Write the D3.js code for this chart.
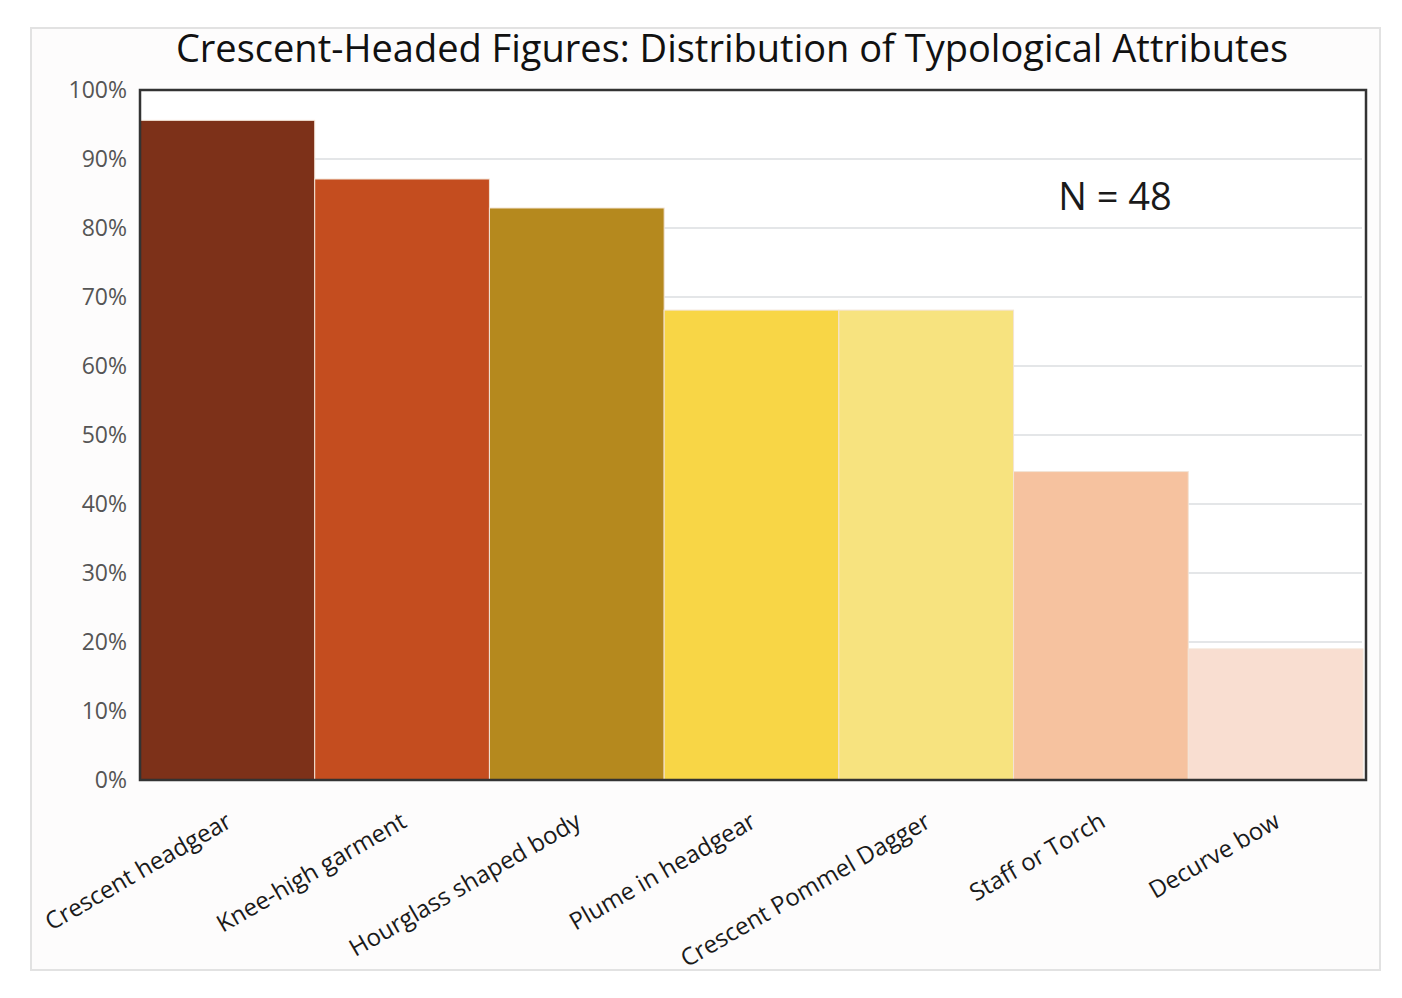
<!DOCTYPE html>
<html>
<head>
<meta charset="utf-8">
<script src="https://cdn.jsdelivr.net/npm/d3@7"></script>
<style>
  body { margin: 0; background: #fff; }
  svg { display: block; }
</style>
</head>
<body>
<svg id="chart" width="1402" height="998"></svg>
<script>
// data
let categories = ["Crescent headgear", "Knee-high garment", "Hourglass shaped body",
    "Plume in headgear", "Crescent Pommel Dagger", "Staff or Torch", "Decurve bow"];
let percents = [95.6, 87.1, 82.9, 68.1, 68.1, 44.7, 19.0];
let barColors = ["#7d3119", "#c44d1f", "#b5891e", "#f8d646", "#f7e37f", "#f6c29f", "#f9ded1"];
let yTicks = [0, 10, 20, 30, 40, 50, 60, 70, 80, 90, 100];
let titleText = "Crescent-Headed Figures: Distribution of Typological Attributes";
let noteText = "N = 48";

let svg = d3.select("#chart");
let font = "'Open Sans', 'DejaVu Sans', sans-serif";

let plotLeft = 140, plotRight = 1366, plotTop = 90, plotBottom = 780;

// card behind the chart
svg.append("rect")
    .attr("x", 31).attr("y", 28)
    .attr("width", 1349).attr("height", 942)
    .attr("fill", "#fdfcfc")
    .attr("stroke", "#e2e2e2")
    .attr("stroke-width", 2);

svg.append("text")
    .attr("x", 732)
    .attr("y", 62)
    .attr("text-anchor", "middle")
    .attr("font-family", font)
    .attr("font-size", "38px")
    .attr("fill", "#111")
    .text(titleText);

let x = d3.scaleBand()
    .domain(categories)
    .range([plotLeft, plotRight - 3])
    .padding(0);

let y = d3.scaleLinear()
    .domain([0, 100])
    .range([plotBottom, plotTop]);

// plot background
svg.append("rect")
    .attr("x", plotLeft).attr("y", plotTop)
    .attr("width", plotRight - plotLeft).attr("height", plotBottom - plotTop)
    .attr("fill", "#fff");

// gridlines
svg.append("g")
    .selectAll("line")
    .data(yTicks.filter(d => d > 0 && d < 100))
    .join("line")
    .attr("x1", plotLeft)
    .attr("x2", plotRight - 4)
    .attr("y1", d => y(d))
    .attr("y2", d => y(d))
    .attr("stroke", "#e4e6e8")
    .attr("stroke-width", 2);

// bars
svg.append("g")
    .selectAll("rect")
    .data(percents)
    .join("rect")
    .attr("x", (d, i) => x(categories[i]))
    .attr("y", d => y(d))
    .attr("width", x.bandwidth())
    .attr("height", d => y(0) - y(d))
    .attr("fill", (d, i) => barColors[i])
    .attr("stroke", "#f3e4d6")
    .attr("stroke-width", 1);

// frame
svg.append("rect")
    .attr("x", plotLeft).attr("y", plotTop)
    .attr("width", plotRight - plotLeft).attr("height", plotBottom - plotTop)
    .attr("fill", "none")
    .attr("stroke", "#333")
    .attr("stroke-width", 2.5);

// y axis labels
let yAxis = d3.axisLeft(y)
    .tickValues(yTicks)
    .tickFormat(d => d + "%")
    .tickSize(0)
    .tickPadding(13);

let yg = svg.append("g")
    .attr("transform", `translate(${plotLeft},0)`)
    .call(yAxis);
yg.select(".domain").remove();
yg.selectAll("text")
    .attr("font-family", font)
    .attr("font-size", "23px")
    .attr("fill", "#555");

// x axis labels, slanted
let xAxis = d3.axisBottom(x).tickSize(0).tickPadding(0);
let xg = svg.append("g")
    .attr("transform", `translate(0,${plotBottom})`)
    .call(xAxis);
xg.select(".domain").remove();
xg.selectAll("text")
    .attr("font-family", font)
    .attr("font-size", "24px")
    .attr("fill", "#1a1a1a")
    .attr("text-anchor", "end")
    .attr("dy", 0)
    .attr("y", 0)
    .attr("transform", "translate(6,46) rotate(-30)");

svg.append("text")
    .attr("x", 1115)
    .attr("y", 210)
    .attr("text-anchor", "middle")
    .attr("font-family", font)
    .attr("font-size", "38px")
    .attr("fill", "#1a1a1a")
    .text(noteText);
</script>
</body>
</html>
